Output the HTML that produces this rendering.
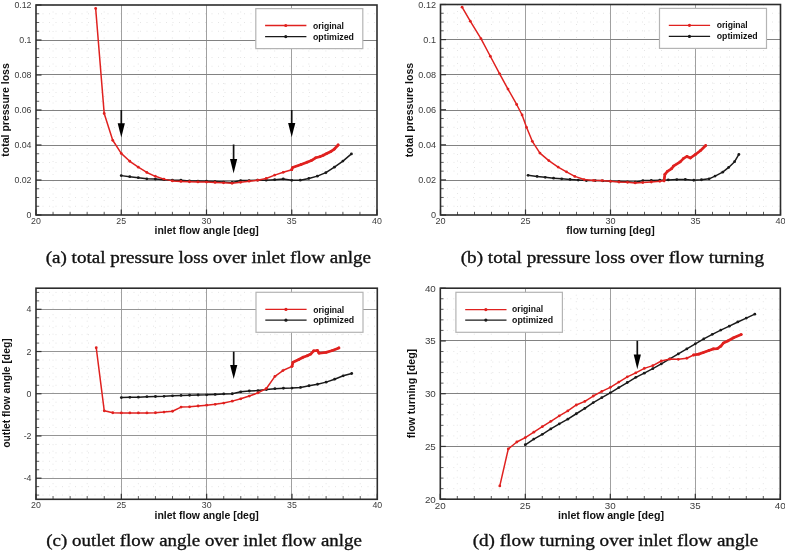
<!DOCTYPE html>
<html><head><meta charset="utf-8"><title>Figure</title>
<style>
html,body{margin:0;padding:0;background:#fff;}
body{width:785px;height:552px;overflow:hidden;}
svg{display:block;}
.tl{font-family:"Liberation Sans",Arial,sans-serif;font-size:8.6px;fill:#3c3c3c;}
.al{font-family:"Liberation Sans",Arial,sans-serif;font-size:10.3px;font-weight:bold;fill:#111;}
.lg{font-family:"Liberation Sans",Arial,sans-serif;font-size:9.9px;font-weight:bold;fill:#111;}
.tt{font-family:"Liberation Serif","Times New Roman",serif;font-size:17.6px;fill:#111;stroke:#111;stroke-width:0.35px;}
</style></head>
<body>
<svg width="785" height="552" viewBox="0 0 785 552">
<rect width="785" height="552" fill="#fff"/>
<line x1="53.05" y1="5.00" x2="53.05" y2="215.00" stroke="#dedede" stroke-width="0.8" stroke-dasharray="1 5.5"/>
<line x1="70.10" y1="5.00" x2="70.10" y2="215.00" stroke="#dedede" stroke-width="0.8" stroke-dasharray="1 5.5"/>
<line x1="87.15" y1="5.00" x2="87.15" y2="215.00" stroke="#dedede" stroke-width="0.8" stroke-dasharray="1 5.5"/>
<line x1="104.20" y1="5.00" x2="104.20" y2="215.00" stroke="#dedede" stroke-width="0.8" stroke-dasharray="1 5.5"/>
<line x1="138.30" y1="5.00" x2="138.30" y2="215.00" stroke="#dedede" stroke-width="0.8" stroke-dasharray="1 5.5"/>
<line x1="155.35" y1="5.00" x2="155.35" y2="215.00" stroke="#dedede" stroke-width="0.8" stroke-dasharray="1 5.5"/>
<line x1="172.40" y1="5.00" x2="172.40" y2="215.00" stroke="#dedede" stroke-width="0.8" stroke-dasharray="1 5.5"/>
<line x1="189.45" y1="5.00" x2="189.45" y2="215.00" stroke="#dedede" stroke-width="0.8" stroke-dasharray="1 5.5"/>
<line x1="223.55" y1="5.00" x2="223.55" y2="215.00" stroke="#dedede" stroke-width="0.8" stroke-dasharray="1 5.5"/>
<line x1="240.60" y1="5.00" x2="240.60" y2="215.00" stroke="#dedede" stroke-width="0.8" stroke-dasharray="1 5.5"/>
<line x1="257.65" y1="5.00" x2="257.65" y2="215.00" stroke="#dedede" stroke-width="0.8" stroke-dasharray="1 5.5"/>
<line x1="274.70" y1="5.00" x2="274.70" y2="215.00" stroke="#dedede" stroke-width="0.8" stroke-dasharray="1 5.5"/>
<line x1="308.80" y1="5.00" x2="308.80" y2="215.00" stroke="#dedede" stroke-width="0.8" stroke-dasharray="1 5.5"/>
<line x1="325.85" y1="5.00" x2="325.85" y2="215.00" stroke="#dedede" stroke-width="0.8" stroke-dasharray="1 5.5"/>
<line x1="342.90" y1="5.00" x2="342.90" y2="215.00" stroke="#dedede" stroke-width="0.8" stroke-dasharray="1 5.5"/>
<line x1="359.95" y1="5.00" x2="359.95" y2="215.00" stroke="#dedede" stroke-width="0.8" stroke-dasharray="1 5.5"/>
<line x1="36.00" y1="206.25" x2="377.00" y2="206.25" stroke="#dedede" stroke-width="0.8" stroke-dasharray="1 5.5"/>
<line x1="36.00" y1="197.50" x2="377.00" y2="197.50" stroke="#dedede" stroke-width="0.8" stroke-dasharray="1 5.5"/>
<line x1="36.00" y1="188.75" x2="377.00" y2="188.75" stroke="#dedede" stroke-width="0.8" stroke-dasharray="1 5.5"/>
<line x1="36.00" y1="171.25" x2="377.00" y2="171.25" stroke="#dedede" stroke-width="0.8" stroke-dasharray="1 5.5"/>
<line x1="36.00" y1="162.50" x2="377.00" y2="162.50" stroke="#dedede" stroke-width="0.8" stroke-dasharray="1 5.5"/>
<line x1="36.00" y1="153.75" x2="377.00" y2="153.75" stroke="#dedede" stroke-width="0.8" stroke-dasharray="1 5.5"/>
<line x1="36.00" y1="136.25" x2="377.00" y2="136.25" stroke="#dedede" stroke-width="0.8" stroke-dasharray="1 5.5"/>
<line x1="36.00" y1="127.50" x2="377.00" y2="127.50" stroke="#dedede" stroke-width="0.8" stroke-dasharray="1 5.5"/>
<line x1="36.00" y1="118.75" x2="377.00" y2="118.75" stroke="#dedede" stroke-width="0.8" stroke-dasharray="1 5.5"/>
<line x1="36.00" y1="101.25" x2="377.00" y2="101.25" stroke="#dedede" stroke-width="0.8" stroke-dasharray="1 5.5"/>
<line x1="36.00" y1="92.50" x2="377.00" y2="92.50" stroke="#dedede" stroke-width="0.8" stroke-dasharray="1 5.5"/>
<line x1="36.00" y1="83.75" x2="377.00" y2="83.75" stroke="#dedede" stroke-width="0.8" stroke-dasharray="1 5.5"/>
<line x1="36.00" y1="66.25" x2="377.00" y2="66.25" stroke="#dedede" stroke-width="0.8" stroke-dasharray="1 5.5"/>
<line x1="36.00" y1="57.50" x2="377.00" y2="57.50" stroke="#dedede" stroke-width="0.8" stroke-dasharray="1 5.5"/>
<line x1="36.00" y1="48.75" x2="377.00" y2="48.75" stroke="#dedede" stroke-width="0.8" stroke-dasharray="1 5.5"/>
<line x1="36.00" y1="31.25" x2="377.00" y2="31.25" stroke="#dedede" stroke-width="0.8" stroke-dasharray="1 5.5"/>
<line x1="36.00" y1="22.50" x2="377.00" y2="22.50" stroke="#dedede" stroke-width="0.8" stroke-dasharray="1 5.5"/>
<line x1="36.00" y1="13.75" x2="377.00" y2="13.75" stroke="#dedede" stroke-width="0.8" stroke-dasharray="1 5.5"/>
<line x1="121.50" y1="5.00" x2="121.50" y2="215.00" stroke="#a0a0a0" stroke-width="1"/>
<line x1="206.50" y1="5.00" x2="206.50" y2="215.00" stroke="#a0a0a0" stroke-width="1"/>
<line x1="291.50" y1="5.00" x2="291.50" y2="215.00" stroke="#a0a0a0" stroke-width="1"/>
<line x1="36.00" y1="180.50" x2="377.00" y2="180.50" stroke="#828282" stroke-width="1"/>
<line x1="36.00" y1="145.50" x2="377.00" y2="145.50" stroke="#828282" stroke-width="1"/>
<line x1="36.00" y1="110.50" x2="377.00" y2="110.50" stroke="#828282" stroke-width="1"/>
<line x1="36.00" y1="74.50" x2="377.00" y2="74.50" stroke="#828282" stroke-width="1"/>
<line x1="36.00" y1="40.50" x2="377.00" y2="40.50" stroke="#828282" stroke-width="1"/>
<line x1="36.00" y1="215.00" x2="36.00" y2="209.50" stroke="#333" stroke-width="1.2"/>
<line x1="53.05" y1="215.00" x2="53.05" y2="211.80" stroke="#333" stroke-width="0.8"/>
<line x1="70.10" y1="215.00" x2="70.10" y2="211.80" stroke="#333" stroke-width="0.8"/>
<line x1="87.15" y1="215.00" x2="87.15" y2="211.80" stroke="#333" stroke-width="0.8"/>
<line x1="104.20" y1="215.00" x2="104.20" y2="211.80" stroke="#333" stroke-width="0.8"/>
<line x1="121.25" y1="215.00" x2="121.25" y2="209.50" stroke="#333" stroke-width="1.2"/>
<line x1="138.30" y1="215.00" x2="138.30" y2="211.80" stroke="#333" stroke-width="0.8"/>
<line x1="155.35" y1="215.00" x2="155.35" y2="211.80" stroke="#333" stroke-width="0.8"/>
<line x1="172.40" y1="215.00" x2="172.40" y2="211.80" stroke="#333" stroke-width="0.8"/>
<line x1="189.45" y1="215.00" x2="189.45" y2="211.80" stroke="#333" stroke-width="0.8"/>
<line x1="206.50" y1="215.00" x2="206.50" y2="209.50" stroke="#333" stroke-width="1.2"/>
<line x1="223.55" y1="215.00" x2="223.55" y2="211.80" stroke="#333" stroke-width="0.8"/>
<line x1="240.60" y1="215.00" x2="240.60" y2="211.80" stroke="#333" stroke-width="0.8"/>
<line x1="257.65" y1="215.00" x2="257.65" y2="211.80" stroke="#333" stroke-width="0.8"/>
<line x1="274.70" y1="215.00" x2="274.70" y2="211.80" stroke="#333" stroke-width="0.8"/>
<line x1="291.75" y1="215.00" x2="291.75" y2="209.50" stroke="#333" stroke-width="1.2"/>
<line x1="308.80" y1="215.00" x2="308.80" y2="211.80" stroke="#333" stroke-width="0.8"/>
<line x1="325.85" y1="215.00" x2="325.85" y2="211.80" stroke="#333" stroke-width="0.8"/>
<line x1="342.90" y1="215.00" x2="342.90" y2="211.80" stroke="#333" stroke-width="0.8"/>
<line x1="359.95" y1="215.00" x2="359.95" y2="211.80" stroke="#333" stroke-width="0.8"/>
<line x1="377.00" y1="215.00" x2="377.00" y2="209.50" stroke="#333" stroke-width="1.2"/>
<line x1="36.00" y1="215.00" x2="41.50" y2="215.00" stroke="#333" stroke-width="1.2"/>
<line x1="36.00" y1="206.25" x2="39.20" y2="206.25" stroke="#333" stroke-width="0.8"/>
<line x1="36.00" y1="197.50" x2="39.20" y2="197.50" stroke="#333" stroke-width="0.8"/>
<line x1="36.00" y1="188.75" x2="39.20" y2="188.75" stroke="#333" stroke-width="0.8"/>
<line x1="36.00" y1="180.00" x2="41.50" y2="180.00" stroke="#333" stroke-width="1.2"/>
<line x1="36.00" y1="171.25" x2="39.20" y2="171.25" stroke="#333" stroke-width="0.8"/>
<line x1="36.00" y1="162.50" x2="39.20" y2="162.50" stroke="#333" stroke-width="0.8"/>
<line x1="36.00" y1="153.75" x2="39.20" y2="153.75" stroke="#333" stroke-width="0.8"/>
<line x1="36.00" y1="145.00" x2="41.50" y2="145.00" stroke="#333" stroke-width="1.2"/>
<line x1="36.00" y1="136.25" x2="39.20" y2="136.25" stroke="#333" stroke-width="0.8"/>
<line x1="36.00" y1="127.50" x2="39.20" y2="127.50" stroke="#333" stroke-width="0.8"/>
<line x1="36.00" y1="118.75" x2="39.20" y2="118.75" stroke="#333" stroke-width="0.8"/>
<line x1="36.00" y1="110.00" x2="41.50" y2="110.00" stroke="#333" stroke-width="1.2"/>
<line x1="36.00" y1="101.25" x2="39.20" y2="101.25" stroke="#333" stroke-width="0.8"/>
<line x1="36.00" y1="92.50" x2="39.20" y2="92.50" stroke="#333" stroke-width="0.8"/>
<line x1="36.00" y1="83.75" x2="39.20" y2="83.75" stroke="#333" stroke-width="0.8"/>
<line x1="36.00" y1="75.00" x2="41.50" y2="75.00" stroke="#333" stroke-width="1.2"/>
<line x1="36.00" y1="66.25" x2="39.20" y2="66.25" stroke="#333" stroke-width="0.8"/>
<line x1="36.00" y1="57.50" x2="39.20" y2="57.50" stroke="#333" stroke-width="0.8"/>
<line x1="36.00" y1="48.75" x2="39.20" y2="48.75" stroke="#333" stroke-width="0.8"/>
<line x1="36.00" y1="40.00" x2="41.50" y2="40.00" stroke="#333" stroke-width="1.2"/>
<line x1="36.00" y1="31.25" x2="39.20" y2="31.25" stroke="#333" stroke-width="0.8"/>
<line x1="36.00" y1="22.50" x2="39.20" y2="22.50" stroke="#333" stroke-width="0.8"/>
<line x1="36.00" y1="13.75" x2="39.20" y2="13.75" stroke="#333" stroke-width="0.8"/>
<line x1="36.00" y1="5.00" x2="41.50" y2="5.00" stroke="#333" stroke-width="1.2"/>
<rect x="36.00" y="5.00" width="341.00" height="210.00" fill="none" stroke="#2c2c2c" stroke-width="1.6"/>
<text x="36.00" y="223.90" class="tl" style="font-size:8.8px" text-anchor="middle">20</text>
<text x="121.25" y="223.90" class="tl" style="font-size:8.8px" text-anchor="middle">25</text>
<text x="206.50" y="223.90" class="tl" style="font-size:8.8px" text-anchor="middle">30</text>
<text x="291.75" y="223.90" class="tl" style="font-size:8.8px" text-anchor="middle">35</text>
<text x="377.00" y="223.90" class="tl" style="font-size:8.8px" text-anchor="middle">40</text>
<text x="31.50" y="218.15" class="tl" style="font-size:8.8px" text-anchor="end">0</text>
<text x="31.50" y="183.15" class="tl" style="font-size:8.8px" text-anchor="end">0.02</text>
<text x="31.50" y="148.15" class="tl" style="font-size:8.8px" text-anchor="end">0.04</text>
<text x="31.50" y="113.15" class="tl" style="font-size:8.8px" text-anchor="end">0.06</text>
<text x="31.50" y="78.15" class="tl" style="font-size:8.8px" text-anchor="end">0.08</text>
<text x="31.50" y="43.15" class="tl" style="font-size:8.8px" text-anchor="end">0.1</text>
<text x="31.50" y="8.15" class="tl" style="font-size:8.8px" text-anchor="end">0.12</text>
<polyline points="121.25,175.62 129.78,176.68 138.30,177.72 146.82,178.78 155.35,179.12 163.88,179.65 172.40,180.18 180.92,180.18 189.45,180.88 197.97,181.05 206.50,181.22 215.03,181.57 223.55,182.10 232.07,182.45 240.60,180.53 249.12,180.53 257.65,180.18 266.18,180.18 274.70,179.65 283.23,178.95 291.75,180.35 300.28,180.18 308.80,178.43 317.32,176.15 325.85,172.65 334.38,167.22 342.90,161.10 351.43,153.93" fill="none" stroke="#1a1a1a" stroke-width="1.5" stroke-linejoin="round" stroke-linecap="round"/>
<circle cx="121.25" cy="175.62" r="1.4" fill="#1a1a1a"/>
<circle cx="129.78" cy="176.68" r="1.4" fill="#1a1a1a"/>
<circle cx="138.30" cy="177.72" r="1.4" fill="#1a1a1a"/>
<circle cx="146.82" cy="178.78" r="1.4" fill="#1a1a1a"/>
<circle cx="155.35" cy="179.12" r="1.4" fill="#1a1a1a"/>
<circle cx="163.88" cy="179.65" r="1.4" fill="#1a1a1a"/>
<circle cx="172.40" cy="180.18" r="1.4" fill="#1a1a1a"/>
<circle cx="180.92" cy="180.18" r="1.4" fill="#1a1a1a"/>
<circle cx="189.45" cy="180.88" r="1.4" fill="#1a1a1a"/>
<circle cx="197.97" cy="181.05" r="1.4" fill="#1a1a1a"/>
<circle cx="206.50" cy="181.22" r="1.4" fill="#1a1a1a"/>
<circle cx="215.03" cy="181.57" r="1.4" fill="#1a1a1a"/>
<circle cx="223.55" cy="182.10" r="1.4" fill="#1a1a1a"/>
<circle cx="232.07" cy="182.45" r="1.4" fill="#1a1a1a"/>
<circle cx="240.60" cy="180.53" r="1.4" fill="#1a1a1a"/>
<circle cx="249.12" cy="180.53" r="1.4" fill="#1a1a1a"/>
<circle cx="257.65" cy="180.18" r="1.4" fill="#1a1a1a"/>
<circle cx="266.18" cy="180.18" r="1.4" fill="#1a1a1a"/>
<circle cx="274.70" cy="179.65" r="1.4" fill="#1a1a1a"/>
<circle cx="283.23" cy="178.95" r="1.4" fill="#1a1a1a"/>
<circle cx="291.75" cy="180.35" r="1.4" fill="#1a1a1a"/>
<circle cx="300.28" cy="180.18" r="1.4" fill="#1a1a1a"/>
<circle cx="308.80" cy="178.43" r="1.4" fill="#1a1a1a"/>
<circle cx="317.32" cy="176.15" r="1.4" fill="#1a1a1a"/>
<circle cx="325.85" cy="172.65" r="1.4" fill="#1a1a1a"/>
<circle cx="334.38" cy="167.22" r="1.4" fill="#1a1a1a"/>
<circle cx="342.90" cy="161.10" r="1.4" fill="#1a1a1a"/>
<circle cx="351.43" cy="153.93" r="1.4" fill="#1a1a1a"/>
<polyline points="95.67,8.50 104.20,113.50 112.73,140.28 121.25,153.40 129.78,161.27 138.30,167.22 146.82,172.47 155.35,176.32 163.88,179.12 172.40,180.88 180.92,181.40 189.45,181.75 197.97,181.93 206.50,182.10 215.03,182.45 223.55,182.80 232.07,183.32 240.60,182.28 249.12,181.22 257.65,180.18 266.18,178.43 274.70,175.10 283.23,172.30 291.75,169.68 292.60,167.57 301.13,164.43 307.09,162.15 311.36,160.57 315.62,157.78 319.88,156.72 323.29,155.32 326.70,153.57 330.96,151.47 334.38,149.03 338.13,145.00" fill="none" stroke="#e0211f" stroke-width="1.5" stroke-linejoin="round" stroke-linecap="round"/>
<circle cx="95.67" cy="8.50" r="1.4" fill="#e0211f"/>
<circle cx="104.20" cy="113.50" r="1.4" fill="#e0211f"/>
<circle cx="112.73" cy="140.28" r="1.4" fill="#e0211f"/>
<circle cx="121.25" cy="153.40" r="1.4" fill="#e0211f"/>
<circle cx="129.78" cy="161.27" r="1.4" fill="#e0211f"/>
<circle cx="138.30" cy="167.22" r="1.4" fill="#e0211f"/>
<circle cx="146.82" cy="172.47" r="1.4" fill="#e0211f"/>
<circle cx="155.35" cy="176.32" r="1.4" fill="#e0211f"/>
<circle cx="163.88" cy="179.12" r="1.4" fill="#e0211f"/>
<circle cx="172.40" cy="180.88" r="1.4" fill="#e0211f"/>
<circle cx="180.92" cy="181.40" r="1.4" fill="#e0211f"/>
<circle cx="189.45" cy="181.75" r="1.4" fill="#e0211f"/>
<circle cx="197.97" cy="181.93" r="1.4" fill="#e0211f"/>
<circle cx="206.50" cy="182.10" r="1.4" fill="#e0211f"/>
<circle cx="215.03" cy="182.45" r="1.4" fill="#e0211f"/>
<circle cx="223.55" cy="182.80" r="1.4" fill="#e0211f"/>
<circle cx="232.07" cy="183.32" r="1.4" fill="#e0211f"/>
<circle cx="240.60" cy="182.28" r="1.4" fill="#e0211f"/>
<circle cx="249.12" cy="181.22" r="1.4" fill="#e0211f"/>
<circle cx="257.65" cy="180.18" r="1.4" fill="#e0211f"/>
<circle cx="266.18" cy="178.43" r="1.4" fill="#e0211f"/>
<circle cx="274.70" cy="175.10" r="1.4" fill="#e0211f"/>
<circle cx="283.23" cy="172.30" r="1.4" fill="#e0211f"/>
<circle cx="291.75" cy="169.68" r="1.4" fill="#e0211f"/>
<circle cx="292.60" cy="167.57" r="1.4" fill="#e0211f"/>
<circle cx="301.13" cy="164.43" r="1.4" fill="#e0211f"/>
<circle cx="307.09" cy="162.15" r="1.4" fill="#e0211f"/>
<circle cx="311.36" cy="160.57" r="1.4" fill="#e0211f"/>
<circle cx="315.62" cy="157.78" r="1.4" fill="#e0211f"/>
<circle cx="319.88" cy="156.72" r="1.4" fill="#e0211f"/>
<circle cx="323.29" cy="155.32" r="1.4" fill="#e0211f"/>
<circle cx="326.70" cy="153.57" r="1.4" fill="#e0211f"/>
<circle cx="330.96" cy="151.47" r="1.4" fill="#e0211f"/>
<circle cx="334.38" cy="149.03" r="1.4" fill="#e0211f"/>
<circle cx="338.13" cy="145.00" r="1.4" fill="#e0211f"/>
<polyline points="291.75,169.68 292.60,167.57 301.13,164.43 307.09,162.15 311.36,160.57 315.62,157.78 319.88,156.72 323.29,155.32 326.70,153.57 330.96,151.47 334.38,149.03 338.13,145.00" fill="none" stroke="#e0211f" stroke-width="2.7" stroke-linejoin="round" stroke-linecap="round"/>
<line x1="121.30" y1="110.00" x2="121.30" y2="124.20" stroke="#111" stroke-width="1.7"/>
<polygon points="117.70,123.20 124.90,123.20 121.30,137.60" fill="#000"/>
<line x1="233.60" y1="144.50" x2="233.60" y2="160.00" stroke="#111" stroke-width="1.7"/>
<polygon points="230.00,159.00 237.20,159.00 233.60,173.40" fill="#000"/>
<line x1="291.70" y1="110.00" x2="291.70" y2="124.10" stroke="#111" stroke-width="1.7"/>
<polygon points="288.10,123.10 295.30,123.10 291.70,137.30" fill="#000"/>
<rect x="255.80" y="8.60" width="107" height="40" fill="#fff" stroke="#b4b4b4" stroke-width="1.2"/>
<line x1="265.10" y1="25.50" x2="306.40" y2="25.50" stroke="#e0211f" stroke-width="1.3"/>
<circle cx="285.75" cy="25.50" r="1.6" fill="#e0211f"/>
<line x1="265.10" y1="36.60" x2="306.40" y2="36.60" stroke="#1a1a1a" stroke-width="1.3"/>
<circle cx="285.75" cy="36.60" r="1.6" fill="#1a1a1a"/>
<text x="313.00" y="29.30" class="lg" textLength="31" lengthAdjust="spacingAndGlyphs">original</text>
<text x="313.00" y="40.30" class="lg" textLength="41" lengthAdjust="spacingAndGlyphs">optimized</text>
<text transform="translate(9.00,110.00) rotate(-90)" text-anchor="middle" class="al" textLength="93.5" lengthAdjust="spacingAndGlyphs">total pressure loss</text>
<text x="206.70" y="234.30" text-anchor="middle" class="al" textLength="104.3" lengthAdjust="spacingAndGlyphs">inlet flow angle [deg]</text>
<text x="45.70" y="262.90" class="tt" textLength="325.3" lengthAdjust="spacingAndGlyphs">(a) total pressure loss over inlet flow anlge</text>
<line x1="457.50" y1="4.50" x2="457.50" y2="215.00" stroke="#dedede" stroke-width="0.8" stroke-dasharray="1 5.5"/>
<line x1="474.50" y1="4.50" x2="474.50" y2="215.00" stroke="#dedede" stroke-width="0.8" stroke-dasharray="1 5.5"/>
<line x1="491.50" y1="4.50" x2="491.50" y2="215.00" stroke="#dedede" stroke-width="0.8" stroke-dasharray="1 5.5"/>
<line x1="508.50" y1="4.50" x2="508.50" y2="215.00" stroke="#dedede" stroke-width="0.8" stroke-dasharray="1 5.5"/>
<line x1="542.50" y1="4.50" x2="542.50" y2="215.00" stroke="#dedede" stroke-width="0.8" stroke-dasharray="1 5.5"/>
<line x1="559.50" y1="4.50" x2="559.50" y2="215.00" stroke="#dedede" stroke-width="0.8" stroke-dasharray="1 5.5"/>
<line x1="576.50" y1="4.50" x2="576.50" y2="215.00" stroke="#dedede" stroke-width="0.8" stroke-dasharray="1 5.5"/>
<line x1="593.50" y1="4.50" x2="593.50" y2="215.00" stroke="#dedede" stroke-width="0.8" stroke-dasharray="1 5.5"/>
<line x1="627.50" y1="4.50" x2="627.50" y2="215.00" stroke="#dedede" stroke-width="0.8" stroke-dasharray="1 5.5"/>
<line x1="644.50" y1="4.50" x2="644.50" y2="215.00" stroke="#dedede" stroke-width="0.8" stroke-dasharray="1 5.5"/>
<line x1="661.50" y1="4.50" x2="661.50" y2="215.00" stroke="#dedede" stroke-width="0.8" stroke-dasharray="1 5.5"/>
<line x1="678.50" y1="4.50" x2="678.50" y2="215.00" stroke="#dedede" stroke-width="0.8" stroke-dasharray="1 5.5"/>
<line x1="712.50" y1="4.50" x2="712.50" y2="215.00" stroke="#dedede" stroke-width="0.8" stroke-dasharray="1 5.5"/>
<line x1="729.50" y1="4.50" x2="729.50" y2="215.00" stroke="#dedede" stroke-width="0.8" stroke-dasharray="1 5.5"/>
<line x1="746.50" y1="4.50" x2="746.50" y2="215.00" stroke="#dedede" stroke-width="0.8" stroke-dasharray="1 5.5"/>
<line x1="763.50" y1="4.50" x2="763.50" y2="215.00" stroke="#dedede" stroke-width="0.8" stroke-dasharray="1 5.5"/>
<line x1="440.50" y1="206.23" x2="780.50" y2="206.23" stroke="#dedede" stroke-width="0.8" stroke-dasharray="1 5.5"/>
<line x1="440.50" y1="197.46" x2="780.50" y2="197.46" stroke="#dedede" stroke-width="0.8" stroke-dasharray="1 5.5"/>
<line x1="440.50" y1="188.69" x2="780.50" y2="188.69" stroke="#dedede" stroke-width="0.8" stroke-dasharray="1 5.5"/>
<line x1="440.50" y1="171.15" x2="780.50" y2="171.15" stroke="#dedede" stroke-width="0.8" stroke-dasharray="1 5.5"/>
<line x1="440.50" y1="162.38" x2="780.50" y2="162.38" stroke="#dedede" stroke-width="0.8" stroke-dasharray="1 5.5"/>
<line x1="440.50" y1="153.60" x2="780.50" y2="153.60" stroke="#dedede" stroke-width="0.8" stroke-dasharray="1 5.5"/>
<line x1="440.50" y1="136.06" x2="780.50" y2="136.06" stroke="#dedede" stroke-width="0.8" stroke-dasharray="1 5.5"/>
<line x1="440.50" y1="127.29" x2="780.50" y2="127.29" stroke="#dedede" stroke-width="0.8" stroke-dasharray="1 5.5"/>
<line x1="440.50" y1="118.52" x2="780.50" y2="118.52" stroke="#dedede" stroke-width="0.8" stroke-dasharray="1 5.5"/>
<line x1="440.50" y1="100.98" x2="780.50" y2="100.98" stroke="#dedede" stroke-width="0.8" stroke-dasharray="1 5.5"/>
<line x1="440.50" y1="92.21" x2="780.50" y2="92.21" stroke="#dedede" stroke-width="0.8" stroke-dasharray="1 5.5"/>
<line x1="440.50" y1="83.44" x2="780.50" y2="83.44" stroke="#dedede" stroke-width="0.8" stroke-dasharray="1 5.5"/>
<line x1="440.50" y1="65.90" x2="780.50" y2="65.90" stroke="#dedede" stroke-width="0.8" stroke-dasharray="1 5.5"/>
<line x1="440.50" y1="57.12" x2="780.50" y2="57.12" stroke="#dedede" stroke-width="0.8" stroke-dasharray="1 5.5"/>
<line x1="440.50" y1="48.35" x2="780.50" y2="48.35" stroke="#dedede" stroke-width="0.8" stroke-dasharray="1 5.5"/>
<line x1="440.50" y1="30.81" x2="780.50" y2="30.81" stroke="#dedede" stroke-width="0.8" stroke-dasharray="1 5.5"/>
<line x1="440.50" y1="22.04" x2="780.50" y2="22.04" stroke="#dedede" stroke-width="0.8" stroke-dasharray="1 5.5"/>
<line x1="440.50" y1="13.27" x2="780.50" y2="13.27" stroke="#dedede" stroke-width="0.8" stroke-dasharray="1 5.5"/>
<line x1="525.50" y1="4.50" x2="525.50" y2="215.00" stroke="#a0a0a0" stroke-width="1"/>
<line x1="610.50" y1="4.50" x2="610.50" y2="215.00" stroke="#a0a0a0" stroke-width="1"/>
<line x1="695.50" y1="4.50" x2="695.50" y2="215.00" stroke="#a0a0a0" stroke-width="1"/>
<line x1="440.50" y1="180.50" x2="780.50" y2="180.50" stroke="#828282" stroke-width="1"/>
<line x1="440.50" y1="145.50" x2="780.50" y2="145.50" stroke="#828282" stroke-width="1"/>
<line x1="440.50" y1="110.50" x2="780.50" y2="110.50" stroke="#828282" stroke-width="1"/>
<line x1="440.50" y1="74.50" x2="780.50" y2="74.50" stroke="#828282" stroke-width="1"/>
<line x1="440.50" y1="39.50" x2="780.50" y2="39.50" stroke="#828282" stroke-width="1"/>
<line x1="440.50" y1="215.00" x2="440.50" y2="209.50" stroke="#333" stroke-width="1.2"/>
<line x1="457.50" y1="215.00" x2="457.50" y2="211.80" stroke="#333" stroke-width="0.8"/>
<line x1="474.50" y1="215.00" x2="474.50" y2="211.80" stroke="#333" stroke-width="0.8"/>
<line x1="491.50" y1="215.00" x2="491.50" y2="211.80" stroke="#333" stroke-width="0.8"/>
<line x1="508.50" y1="215.00" x2="508.50" y2="211.80" stroke="#333" stroke-width="0.8"/>
<line x1="525.50" y1="215.00" x2="525.50" y2="209.50" stroke="#333" stroke-width="1.2"/>
<line x1="542.50" y1="215.00" x2="542.50" y2="211.80" stroke="#333" stroke-width="0.8"/>
<line x1="559.50" y1="215.00" x2="559.50" y2="211.80" stroke="#333" stroke-width="0.8"/>
<line x1="576.50" y1="215.00" x2="576.50" y2="211.80" stroke="#333" stroke-width="0.8"/>
<line x1="593.50" y1="215.00" x2="593.50" y2="211.80" stroke="#333" stroke-width="0.8"/>
<line x1="610.50" y1="215.00" x2="610.50" y2="209.50" stroke="#333" stroke-width="1.2"/>
<line x1="627.50" y1="215.00" x2="627.50" y2="211.80" stroke="#333" stroke-width="0.8"/>
<line x1="644.50" y1="215.00" x2="644.50" y2="211.80" stroke="#333" stroke-width="0.8"/>
<line x1="661.50" y1="215.00" x2="661.50" y2="211.80" stroke="#333" stroke-width="0.8"/>
<line x1="678.50" y1="215.00" x2="678.50" y2="211.80" stroke="#333" stroke-width="0.8"/>
<line x1="695.50" y1="215.00" x2="695.50" y2="209.50" stroke="#333" stroke-width="1.2"/>
<line x1="712.50" y1="215.00" x2="712.50" y2="211.80" stroke="#333" stroke-width="0.8"/>
<line x1="729.50" y1="215.00" x2="729.50" y2="211.80" stroke="#333" stroke-width="0.8"/>
<line x1="746.50" y1="215.00" x2="746.50" y2="211.80" stroke="#333" stroke-width="0.8"/>
<line x1="763.50" y1="215.00" x2="763.50" y2="211.80" stroke="#333" stroke-width="0.8"/>
<line x1="780.50" y1="215.00" x2="780.50" y2="209.50" stroke="#333" stroke-width="1.2"/>
<line x1="440.50" y1="215.00" x2="446.00" y2="215.00" stroke="#333" stroke-width="1.2"/>
<line x1="440.50" y1="206.23" x2="443.70" y2="206.23" stroke="#333" stroke-width="0.8"/>
<line x1="440.50" y1="197.46" x2="443.70" y2="197.46" stroke="#333" stroke-width="0.8"/>
<line x1="440.50" y1="188.69" x2="443.70" y2="188.69" stroke="#333" stroke-width="0.8"/>
<line x1="440.50" y1="179.92" x2="446.00" y2="179.92" stroke="#333" stroke-width="1.2"/>
<line x1="440.50" y1="171.15" x2="443.70" y2="171.15" stroke="#333" stroke-width="0.8"/>
<line x1="440.50" y1="162.38" x2="443.70" y2="162.38" stroke="#333" stroke-width="0.8"/>
<line x1="440.50" y1="153.60" x2="443.70" y2="153.60" stroke="#333" stroke-width="0.8"/>
<line x1="440.50" y1="144.83" x2="446.00" y2="144.83" stroke="#333" stroke-width="1.2"/>
<line x1="440.50" y1="136.06" x2="443.70" y2="136.06" stroke="#333" stroke-width="0.8"/>
<line x1="440.50" y1="127.29" x2="443.70" y2="127.29" stroke="#333" stroke-width="0.8"/>
<line x1="440.50" y1="118.52" x2="443.70" y2="118.52" stroke="#333" stroke-width="0.8"/>
<line x1="440.50" y1="109.75" x2="446.00" y2="109.75" stroke="#333" stroke-width="1.2"/>
<line x1="440.50" y1="100.98" x2="443.70" y2="100.98" stroke="#333" stroke-width="0.8"/>
<line x1="440.50" y1="92.21" x2="443.70" y2="92.21" stroke="#333" stroke-width="0.8"/>
<line x1="440.50" y1="83.44" x2="443.70" y2="83.44" stroke="#333" stroke-width="0.8"/>
<line x1="440.50" y1="74.67" x2="446.00" y2="74.67" stroke="#333" stroke-width="1.2"/>
<line x1="440.50" y1="65.90" x2="443.70" y2="65.90" stroke="#333" stroke-width="0.8"/>
<line x1="440.50" y1="57.12" x2="443.70" y2="57.12" stroke="#333" stroke-width="0.8"/>
<line x1="440.50" y1="48.35" x2="443.70" y2="48.35" stroke="#333" stroke-width="0.8"/>
<line x1="440.50" y1="39.58" x2="446.00" y2="39.58" stroke="#333" stroke-width="1.2"/>
<line x1="440.50" y1="30.81" x2="443.70" y2="30.81" stroke="#333" stroke-width="0.8"/>
<line x1="440.50" y1="22.04" x2="443.70" y2="22.04" stroke="#333" stroke-width="0.8"/>
<line x1="440.50" y1="13.27" x2="443.70" y2="13.27" stroke="#333" stroke-width="0.8"/>
<line x1="440.50" y1="4.50" x2="446.00" y2="4.50" stroke="#333" stroke-width="1.2"/>
<rect x="440.50" y="4.50" width="340.00" height="210.50" fill="none" stroke="#2c2c2c" stroke-width="1.6"/>
<text x="440.50" y="224.12" class="tl" style="font-size:9.1px" text-anchor="middle">20</text>
<text x="525.50" y="224.12" class="tl" style="font-size:9.1px" text-anchor="middle">25</text>
<text x="610.50" y="224.12" class="tl" style="font-size:9.1px" text-anchor="middle">30</text>
<text x="695.50" y="224.12" class="tl" style="font-size:9.1px" text-anchor="middle">35</text>
<text x="780.50" y="224.12" class="tl" style="font-size:9.1px" text-anchor="middle">40</text>
<text x="436.00" y="218.26" class="tl" style="font-size:9.1px" text-anchor="end">0</text>
<text x="436.00" y="183.17" class="tl" style="font-size:9.1px" text-anchor="end">0.02</text>
<text x="436.00" y="148.09" class="tl" style="font-size:9.1px" text-anchor="end">0.04</text>
<text x="436.00" y="113.01" class="tl" style="font-size:9.1px" text-anchor="end">0.06</text>
<text x="436.00" y="77.92" class="tl" style="font-size:9.1px" text-anchor="end">0.08</text>
<text x="436.00" y="42.84" class="tl" style="font-size:9.1px" text-anchor="end">0.1</text>
<text x="436.00" y="7.76" class="tl" style="font-size:9.1px" text-anchor="end">0.12</text>
<polyline points="528.05,175.36 537.06,176.41 545.22,177.29 553.55,178.16 561.71,178.86 570.04,179.39 578.20,180.09 586.36,180.62 595.20,180.62 602.85,180.79 610.50,181.14 619.00,181.50 627.50,181.85 635.15,182.20 642.80,180.62 651.30,180.44 659.80,180.27 668.30,179.92 676.80,179.57 685.30,179.39 693.80,180.27 701.45,179.74 709.10,178.86 715.05,176.06 722.70,172.20 728.65,167.46 734.60,161.67 738.85,154.48" fill="none" stroke="#1a1a1a" stroke-width="1.5" stroke-linejoin="round" stroke-linecap="round"/>
<circle cx="528.05" cy="175.36" r="1.4" fill="#1a1a1a"/>
<circle cx="537.06" cy="176.41" r="1.4" fill="#1a1a1a"/>
<circle cx="545.22" cy="177.29" r="1.4" fill="#1a1a1a"/>
<circle cx="553.55" cy="178.16" r="1.4" fill="#1a1a1a"/>
<circle cx="561.71" cy="178.86" r="1.4" fill="#1a1a1a"/>
<circle cx="570.04" cy="179.39" r="1.4" fill="#1a1a1a"/>
<circle cx="578.20" cy="180.09" r="1.4" fill="#1a1a1a"/>
<circle cx="586.36" cy="180.62" r="1.4" fill="#1a1a1a"/>
<circle cx="595.20" cy="180.62" r="1.4" fill="#1a1a1a"/>
<circle cx="602.85" cy="180.79" r="1.4" fill="#1a1a1a"/>
<circle cx="610.50" cy="181.14" r="1.4" fill="#1a1a1a"/>
<circle cx="619.00" cy="181.50" r="1.4" fill="#1a1a1a"/>
<circle cx="627.50" cy="181.85" r="1.4" fill="#1a1a1a"/>
<circle cx="635.15" cy="182.20" r="1.4" fill="#1a1a1a"/>
<circle cx="642.80" cy="180.62" r="1.4" fill="#1a1a1a"/>
<circle cx="651.30" cy="180.44" r="1.4" fill="#1a1a1a"/>
<circle cx="659.80" cy="180.27" r="1.4" fill="#1a1a1a"/>
<circle cx="668.30" cy="179.92" r="1.4" fill="#1a1a1a"/>
<circle cx="676.80" cy="179.57" r="1.4" fill="#1a1a1a"/>
<circle cx="685.30" cy="179.39" r="1.4" fill="#1a1a1a"/>
<circle cx="693.80" cy="180.27" r="1.4" fill="#1a1a1a"/>
<circle cx="701.45" cy="179.74" r="1.4" fill="#1a1a1a"/>
<circle cx="709.10" cy="178.86" r="1.4" fill="#1a1a1a"/>
<circle cx="715.05" cy="176.06" r="1.4" fill="#1a1a1a"/>
<circle cx="722.70" cy="172.20" r="1.4" fill="#1a1a1a"/>
<circle cx="728.65" cy="167.46" r="1.4" fill="#1a1a1a"/>
<circle cx="734.60" cy="161.67" r="1.4" fill="#1a1a1a"/>
<circle cx="738.85" cy="154.48" r="1.4" fill="#1a1a1a"/>
<polyline points="462.09,7.13 470.25,21.16 480.96,38.71 490.31,56.25 499.66,73.79 507.99,89.05 516.66,104.49 522.10,115.01 526.52,127.29 532.30,141.32 539.95,153.08 548.79,160.62 558.14,167.11 566.47,171.85 574.80,176.41 584.15,179.57 593.50,180.44 602.00,180.62 610.50,181.32 619.00,182.02 627.50,182.37 635.15,182.90 642.80,182.55 651.30,182.02 659.80,181.32 664.05,180.79 664.90,174.30 667.45,171.32 671.70,168.51 673.40,166.23 680.20,161.85 683.60,158.34 687.00,156.41 690.40,157.99 695.50,154.48 700.60,150.45 705.70,145.53" fill="none" stroke="#e0211f" stroke-width="1.5" stroke-linejoin="round" stroke-linecap="round"/>
<circle cx="462.09" cy="7.13" r="1.4" fill="#e0211f"/>
<circle cx="470.25" cy="21.16" r="1.4" fill="#e0211f"/>
<circle cx="480.96" cy="38.71" r="1.4" fill="#e0211f"/>
<circle cx="490.31" cy="56.25" r="1.4" fill="#e0211f"/>
<circle cx="499.66" cy="73.79" r="1.4" fill="#e0211f"/>
<circle cx="507.99" cy="89.05" r="1.4" fill="#e0211f"/>
<circle cx="516.66" cy="104.49" r="1.4" fill="#e0211f"/>
<circle cx="522.10" cy="115.01" r="1.4" fill="#e0211f"/>
<circle cx="526.52" cy="127.29" r="1.4" fill="#e0211f"/>
<circle cx="532.30" cy="141.32" r="1.4" fill="#e0211f"/>
<circle cx="539.95" cy="153.08" r="1.4" fill="#e0211f"/>
<circle cx="548.79" cy="160.62" r="1.4" fill="#e0211f"/>
<circle cx="558.14" cy="167.11" r="1.4" fill="#e0211f"/>
<circle cx="566.47" cy="171.85" r="1.4" fill="#e0211f"/>
<circle cx="574.80" cy="176.41" r="1.4" fill="#e0211f"/>
<circle cx="584.15" cy="179.57" r="1.4" fill="#e0211f"/>
<circle cx="593.50" cy="180.44" r="1.4" fill="#e0211f"/>
<circle cx="602.00" cy="180.62" r="1.4" fill="#e0211f"/>
<circle cx="610.50" cy="181.32" r="1.4" fill="#e0211f"/>
<circle cx="619.00" cy="182.02" r="1.4" fill="#e0211f"/>
<circle cx="627.50" cy="182.37" r="1.4" fill="#e0211f"/>
<circle cx="635.15" cy="182.90" r="1.4" fill="#e0211f"/>
<circle cx="642.80" cy="182.55" r="1.4" fill="#e0211f"/>
<circle cx="651.30" cy="182.02" r="1.4" fill="#e0211f"/>
<circle cx="659.80" cy="181.32" r="1.4" fill="#e0211f"/>
<circle cx="664.05" cy="180.79" r="1.4" fill="#e0211f"/>
<circle cx="664.90" cy="174.30" r="1.4" fill="#e0211f"/>
<circle cx="667.45" cy="171.32" r="1.4" fill="#e0211f"/>
<circle cx="671.70" cy="168.51" r="1.4" fill="#e0211f"/>
<circle cx="673.40" cy="166.23" r="1.4" fill="#e0211f"/>
<circle cx="680.20" cy="161.85" r="1.4" fill="#e0211f"/>
<circle cx="683.60" cy="158.34" r="1.4" fill="#e0211f"/>
<circle cx="687.00" cy="156.41" r="1.4" fill="#e0211f"/>
<circle cx="690.40" cy="157.99" r="1.4" fill="#e0211f"/>
<circle cx="695.50" cy="154.48" r="1.4" fill="#e0211f"/>
<circle cx="700.60" cy="150.45" r="1.4" fill="#e0211f"/>
<circle cx="705.70" cy="145.53" r="1.4" fill="#e0211f"/>
<polyline points="664.05,180.79 664.90,174.30 667.45,171.32 671.70,168.51 673.40,166.23 680.20,161.85 683.60,158.34 687.00,156.41 690.40,157.99 695.50,154.48 700.60,150.45 705.70,145.53" fill="none" stroke="#e0211f" stroke-width="2.7" stroke-linejoin="round" stroke-linecap="round"/>
<rect x="659.50" y="8.40" width="107" height="40" fill="#fff" stroke="#b4b4b4" stroke-width="1.2"/>
<line x1="668.80" y1="25.30" x2="710.10" y2="25.30" stroke="#e0211f" stroke-width="1.3"/>
<circle cx="689.45" cy="25.30" r="1.6" fill="#e0211f"/>
<line x1="668.80" y1="36.40" x2="710.10" y2="36.40" stroke="#1a1a1a" stroke-width="1.3"/>
<circle cx="689.45" cy="36.40" r="1.6" fill="#1a1a1a"/>
<text x="716.70" y="28.20" class="lg" textLength="31" lengthAdjust="spacingAndGlyphs">original</text>
<text x="716.70" y="38.90" class="lg" textLength="41" lengthAdjust="spacingAndGlyphs">optimized</text>
<text transform="translate(413.30,110.00) rotate(-90)" text-anchor="middle" class="al" textLength="94.5" lengthAdjust="spacingAndGlyphs">total pressure loss</text>
<text x="610.50" y="234.30" text-anchor="middle" class="al" textLength="88.5" lengthAdjust="spacingAndGlyphs">flow turning [deg]</text>
<text x="460.70" y="262.90" class="tt" textLength="303.3" lengthAdjust="spacingAndGlyphs">(b) total pressure loss over flow turning</text>
<line x1="53.06" y1="288.20" x2="53.06" y2="499.30" stroke="#dedede" stroke-width="0.8" stroke-dasharray="1 5.5"/>
<line x1="70.13" y1="288.20" x2="70.13" y2="499.30" stroke="#dedede" stroke-width="0.8" stroke-dasharray="1 5.5"/>
<line x1="87.19" y1="288.20" x2="87.19" y2="499.30" stroke="#dedede" stroke-width="0.8" stroke-dasharray="1 5.5"/>
<line x1="104.26" y1="288.20" x2="104.26" y2="499.30" stroke="#dedede" stroke-width="0.8" stroke-dasharray="1 5.5"/>
<line x1="138.39" y1="288.20" x2="138.39" y2="499.30" stroke="#dedede" stroke-width="0.8" stroke-dasharray="1 5.5"/>
<line x1="155.45" y1="288.20" x2="155.45" y2="499.30" stroke="#dedede" stroke-width="0.8" stroke-dasharray="1 5.5"/>
<line x1="172.52" y1="288.20" x2="172.52" y2="499.30" stroke="#dedede" stroke-width="0.8" stroke-dasharray="1 5.5"/>
<line x1="189.59" y1="288.20" x2="189.59" y2="499.30" stroke="#dedede" stroke-width="0.8" stroke-dasharray="1 5.5"/>
<line x1="223.72" y1="288.20" x2="223.72" y2="499.30" stroke="#dedede" stroke-width="0.8" stroke-dasharray="1 5.5"/>
<line x1="240.78" y1="288.20" x2="240.78" y2="499.30" stroke="#dedede" stroke-width="0.8" stroke-dasharray="1 5.5"/>
<line x1="257.85" y1="288.20" x2="257.85" y2="499.30" stroke="#dedede" stroke-width="0.8" stroke-dasharray="1 5.5"/>
<line x1="274.91" y1="288.20" x2="274.91" y2="499.30" stroke="#dedede" stroke-width="0.8" stroke-dasharray="1 5.5"/>
<line x1="309.04" y1="288.20" x2="309.04" y2="499.30" stroke="#dedede" stroke-width="0.8" stroke-dasharray="1 5.5"/>
<line x1="326.11" y1="288.20" x2="326.11" y2="499.30" stroke="#dedede" stroke-width="0.8" stroke-dasharray="1 5.5"/>
<line x1="343.17" y1="288.20" x2="343.17" y2="499.30" stroke="#dedede" stroke-width="0.8" stroke-dasharray="1 5.5"/>
<line x1="360.24" y1="288.20" x2="360.24" y2="499.30" stroke="#dedede" stroke-width="0.8" stroke-dasharray="1 5.5"/>
<line x1="36.00" y1="495.08" x2="377.30" y2="495.08" stroke="#dedede" stroke-width="0.8" stroke-dasharray="1 5.5"/>
<line x1="36.00" y1="486.63" x2="377.30" y2="486.63" stroke="#dedede" stroke-width="0.8" stroke-dasharray="1 5.5"/>
<line x1="36.00" y1="469.75" x2="377.30" y2="469.75" stroke="#dedede" stroke-width="0.8" stroke-dasharray="1 5.5"/>
<line x1="36.00" y1="461.30" x2="377.30" y2="461.30" stroke="#dedede" stroke-width="0.8" stroke-dasharray="1 5.5"/>
<line x1="36.00" y1="452.86" x2="377.30" y2="452.86" stroke="#dedede" stroke-width="0.8" stroke-dasharray="1 5.5"/>
<line x1="36.00" y1="444.41" x2="377.30" y2="444.41" stroke="#dedede" stroke-width="0.8" stroke-dasharray="1 5.5"/>
<line x1="36.00" y1="427.53" x2="377.30" y2="427.53" stroke="#dedede" stroke-width="0.8" stroke-dasharray="1 5.5"/>
<line x1="36.00" y1="419.08" x2="377.30" y2="419.08" stroke="#dedede" stroke-width="0.8" stroke-dasharray="1 5.5"/>
<line x1="36.00" y1="410.64" x2="377.30" y2="410.64" stroke="#dedede" stroke-width="0.8" stroke-dasharray="1 5.5"/>
<line x1="36.00" y1="402.19" x2="377.30" y2="402.19" stroke="#dedede" stroke-width="0.8" stroke-dasharray="1 5.5"/>
<line x1="36.00" y1="385.31" x2="377.30" y2="385.31" stroke="#dedede" stroke-width="0.8" stroke-dasharray="1 5.5"/>
<line x1="36.00" y1="376.86" x2="377.30" y2="376.86" stroke="#dedede" stroke-width="0.8" stroke-dasharray="1 5.5"/>
<line x1="36.00" y1="368.42" x2="377.30" y2="368.42" stroke="#dedede" stroke-width="0.8" stroke-dasharray="1 5.5"/>
<line x1="36.00" y1="359.97" x2="377.30" y2="359.97" stroke="#dedede" stroke-width="0.8" stroke-dasharray="1 5.5"/>
<line x1="36.00" y1="343.09" x2="377.30" y2="343.09" stroke="#dedede" stroke-width="0.8" stroke-dasharray="1 5.5"/>
<line x1="36.00" y1="334.64" x2="377.30" y2="334.64" stroke="#dedede" stroke-width="0.8" stroke-dasharray="1 5.5"/>
<line x1="36.00" y1="326.20" x2="377.30" y2="326.20" stroke="#dedede" stroke-width="0.8" stroke-dasharray="1 5.5"/>
<line x1="36.00" y1="317.75" x2="377.30" y2="317.75" stroke="#dedede" stroke-width="0.8" stroke-dasharray="1 5.5"/>
<line x1="36.00" y1="300.87" x2="377.30" y2="300.87" stroke="#dedede" stroke-width="0.8" stroke-dasharray="1 5.5"/>
<line x1="36.00" y1="292.42" x2="377.30" y2="292.42" stroke="#dedede" stroke-width="0.8" stroke-dasharray="1 5.5"/>
<line x1="121.50" y1="288.20" x2="121.50" y2="499.30" stroke="#a0a0a0" stroke-width="1"/>
<line x1="206.50" y1="288.20" x2="206.50" y2="499.30" stroke="#a0a0a0" stroke-width="1"/>
<line x1="291.50" y1="288.20" x2="291.50" y2="499.30" stroke="#a0a0a0" stroke-width="1"/>
<line x1="36.00" y1="478.50" x2="377.30" y2="478.50" stroke="#959595" stroke-width="1"/>
<line x1="36.00" y1="435.50" x2="377.30" y2="435.50" stroke="#959595" stroke-width="1"/>
<line x1="36.00" y1="393.50" x2="377.30" y2="393.50" stroke="#959595" stroke-width="1"/>
<line x1="36.00" y1="351.50" x2="377.30" y2="351.50" stroke="#959595" stroke-width="1"/>
<line x1="36.00" y1="309.50" x2="377.30" y2="309.50" stroke="#959595" stroke-width="1"/>
<line x1="36.00" y1="499.30" x2="36.00" y2="493.80" stroke="#333" stroke-width="1.2"/>
<line x1="53.06" y1="499.30" x2="53.06" y2="496.10" stroke="#333" stroke-width="0.8"/>
<line x1="70.13" y1="499.30" x2="70.13" y2="496.10" stroke="#333" stroke-width="0.8"/>
<line x1="87.19" y1="499.30" x2="87.19" y2="496.10" stroke="#333" stroke-width="0.8"/>
<line x1="104.26" y1="499.30" x2="104.26" y2="496.10" stroke="#333" stroke-width="0.8"/>
<line x1="121.33" y1="499.30" x2="121.33" y2="493.80" stroke="#333" stroke-width="1.2"/>
<line x1="138.39" y1="499.30" x2="138.39" y2="496.10" stroke="#333" stroke-width="0.8"/>
<line x1="155.45" y1="499.30" x2="155.45" y2="496.10" stroke="#333" stroke-width="0.8"/>
<line x1="172.52" y1="499.30" x2="172.52" y2="496.10" stroke="#333" stroke-width="0.8"/>
<line x1="189.59" y1="499.30" x2="189.59" y2="496.10" stroke="#333" stroke-width="0.8"/>
<line x1="206.65" y1="499.30" x2="206.65" y2="493.80" stroke="#333" stroke-width="1.2"/>
<line x1="223.72" y1="499.30" x2="223.72" y2="496.10" stroke="#333" stroke-width="0.8"/>
<line x1="240.78" y1="499.30" x2="240.78" y2="496.10" stroke="#333" stroke-width="0.8"/>
<line x1="257.85" y1="499.30" x2="257.85" y2="496.10" stroke="#333" stroke-width="0.8"/>
<line x1="274.91" y1="499.30" x2="274.91" y2="496.10" stroke="#333" stroke-width="0.8"/>
<line x1="291.98" y1="499.30" x2="291.98" y2="493.80" stroke="#333" stroke-width="1.2"/>
<line x1="309.04" y1="499.30" x2="309.04" y2="496.10" stroke="#333" stroke-width="0.8"/>
<line x1="326.11" y1="499.30" x2="326.11" y2="496.10" stroke="#333" stroke-width="0.8"/>
<line x1="343.17" y1="499.30" x2="343.17" y2="496.10" stroke="#333" stroke-width="0.8"/>
<line x1="360.24" y1="499.30" x2="360.24" y2="496.10" stroke="#333" stroke-width="0.8"/>
<line x1="377.30" y1="499.30" x2="377.30" y2="493.80" stroke="#333" stroke-width="1.2"/>
<line x1="36.00" y1="495.08" x2="39.20" y2="495.08" stroke="#333" stroke-width="0.8"/>
<line x1="36.00" y1="486.63" x2="39.20" y2="486.63" stroke="#333" stroke-width="0.8"/>
<line x1="36.00" y1="478.19" x2="41.50" y2="478.19" stroke="#333" stroke-width="1.2"/>
<line x1="36.00" y1="469.75" x2="39.20" y2="469.75" stroke="#333" stroke-width="0.8"/>
<line x1="36.00" y1="461.30" x2="39.20" y2="461.30" stroke="#333" stroke-width="0.8"/>
<line x1="36.00" y1="452.86" x2="39.20" y2="452.86" stroke="#333" stroke-width="0.8"/>
<line x1="36.00" y1="444.41" x2="39.20" y2="444.41" stroke="#333" stroke-width="0.8"/>
<line x1="36.00" y1="435.97" x2="41.50" y2="435.97" stroke="#333" stroke-width="1.2"/>
<line x1="36.00" y1="427.53" x2="39.20" y2="427.53" stroke="#333" stroke-width="0.8"/>
<line x1="36.00" y1="419.08" x2="39.20" y2="419.08" stroke="#333" stroke-width="0.8"/>
<line x1="36.00" y1="410.64" x2="39.20" y2="410.64" stroke="#333" stroke-width="0.8"/>
<line x1="36.00" y1="402.19" x2="39.20" y2="402.19" stroke="#333" stroke-width="0.8"/>
<line x1="36.00" y1="393.75" x2="41.50" y2="393.75" stroke="#333" stroke-width="1.2"/>
<line x1="36.00" y1="385.31" x2="39.20" y2="385.31" stroke="#333" stroke-width="0.8"/>
<line x1="36.00" y1="376.86" x2="39.20" y2="376.86" stroke="#333" stroke-width="0.8"/>
<line x1="36.00" y1="368.42" x2="39.20" y2="368.42" stroke="#333" stroke-width="0.8"/>
<line x1="36.00" y1="359.97" x2="39.20" y2="359.97" stroke="#333" stroke-width="0.8"/>
<line x1="36.00" y1="351.53" x2="41.50" y2="351.53" stroke="#333" stroke-width="1.2"/>
<line x1="36.00" y1="343.09" x2="39.20" y2="343.09" stroke="#333" stroke-width="0.8"/>
<line x1="36.00" y1="334.64" x2="39.20" y2="334.64" stroke="#333" stroke-width="0.8"/>
<line x1="36.00" y1="326.20" x2="39.20" y2="326.20" stroke="#333" stroke-width="0.8"/>
<line x1="36.00" y1="317.75" x2="39.20" y2="317.75" stroke="#333" stroke-width="0.8"/>
<line x1="36.00" y1="309.31" x2="41.50" y2="309.31" stroke="#333" stroke-width="1.2"/>
<line x1="36.00" y1="300.87" x2="39.20" y2="300.87" stroke="#333" stroke-width="0.8"/>
<line x1="36.00" y1="292.42" x2="39.20" y2="292.42" stroke="#333" stroke-width="0.8"/>
<rect x="36.00" y="288.20" width="341.30" height="211.10" fill="none" stroke="#2c2c2c" stroke-width="1.6"/>
<text x="36.00" y="508.20" class="tl" style="font-size:8.8px" text-anchor="middle">20</text>
<text x="121.33" y="508.20" class="tl" style="font-size:8.8px" text-anchor="middle">25</text>
<text x="206.65" y="508.20" class="tl" style="font-size:8.8px" text-anchor="middle">30</text>
<text x="291.98" y="508.20" class="tl" style="font-size:8.8px" text-anchor="middle">35</text>
<text x="377.30" y="508.20" class="tl" style="font-size:8.8px" text-anchor="middle">40</text>
<text x="31.50" y="481.34" class="tl" style="font-size:8.8px" text-anchor="end">-4</text>
<text x="31.50" y="439.12" class="tl" style="font-size:8.8px" text-anchor="end">-2</text>
<text x="31.50" y="396.90" class="tl" style="font-size:8.8px" text-anchor="end">0</text>
<text x="31.50" y="354.68" class="tl" style="font-size:8.8px" text-anchor="end">2</text>
<text x="31.50" y="312.46" class="tl" style="font-size:8.8px" text-anchor="end">4</text>
<polyline points="121.33,397.55 129.86,397.34 138.39,397.13 146.92,396.71 155.45,396.49 163.99,396.28 172.52,395.86 181.05,395.44 189.59,395.23 198.12,395.02 206.65,394.81 215.18,394.38 223.72,393.96 232.25,393.75 240.78,391.85 249.31,391.01 257.85,390.58 266.38,389.53 274.91,388.68 283.44,388.26 291.98,388.05 300.51,387.42 309.04,385.73 317.57,384.25 326.11,382.14 334.64,379.18 343.17,375.81 351.70,373.48" fill="none" stroke="#1a1a1a" stroke-width="1.5" stroke-linejoin="round" stroke-linecap="round"/>
<circle cx="121.33" cy="397.55" r="1.4" fill="#1a1a1a"/>
<circle cx="129.86" cy="397.34" r="1.4" fill="#1a1a1a"/>
<circle cx="138.39" cy="397.13" r="1.4" fill="#1a1a1a"/>
<circle cx="146.92" cy="396.71" r="1.4" fill="#1a1a1a"/>
<circle cx="155.45" cy="396.49" r="1.4" fill="#1a1a1a"/>
<circle cx="163.99" cy="396.28" r="1.4" fill="#1a1a1a"/>
<circle cx="172.52" cy="395.86" r="1.4" fill="#1a1a1a"/>
<circle cx="181.05" cy="395.44" r="1.4" fill="#1a1a1a"/>
<circle cx="189.59" cy="395.23" r="1.4" fill="#1a1a1a"/>
<circle cx="198.12" cy="395.02" r="1.4" fill="#1a1a1a"/>
<circle cx="206.65" cy="394.81" r="1.4" fill="#1a1a1a"/>
<circle cx="215.18" cy="394.38" r="1.4" fill="#1a1a1a"/>
<circle cx="223.72" cy="393.96" r="1.4" fill="#1a1a1a"/>
<circle cx="232.25" cy="393.75" r="1.4" fill="#1a1a1a"/>
<circle cx="240.78" cy="391.85" r="1.4" fill="#1a1a1a"/>
<circle cx="249.31" cy="391.01" r="1.4" fill="#1a1a1a"/>
<circle cx="257.85" cy="390.58" r="1.4" fill="#1a1a1a"/>
<circle cx="266.38" cy="389.53" r="1.4" fill="#1a1a1a"/>
<circle cx="274.91" cy="388.68" r="1.4" fill="#1a1a1a"/>
<circle cx="283.44" cy="388.26" r="1.4" fill="#1a1a1a"/>
<circle cx="291.98" cy="388.05" r="1.4" fill="#1a1a1a"/>
<circle cx="300.51" cy="387.42" r="1.4" fill="#1a1a1a"/>
<circle cx="309.04" cy="385.73" r="1.4" fill="#1a1a1a"/>
<circle cx="317.57" cy="384.25" r="1.4" fill="#1a1a1a"/>
<circle cx="326.11" cy="382.14" r="1.4" fill="#1a1a1a"/>
<circle cx="334.64" cy="379.18" r="1.4" fill="#1a1a1a"/>
<circle cx="343.17" cy="375.81" r="1.4" fill="#1a1a1a"/>
<circle cx="351.70" cy="373.48" r="1.4" fill="#1a1a1a"/>
<polyline points="96.24,347.73 104.26,410.85 112.79,412.75 121.33,412.96 129.86,412.96 138.39,412.96 146.92,412.96 155.45,412.75 163.99,412.12 172.52,411.27 181.05,407.05 189.59,406.84 198.12,405.99 206.65,405.15 215.18,404.31 223.72,403.04 232.25,401.14 240.78,398.82 249.31,396.07 257.85,392.91 266.38,388.47 274.91,376.44 282.93,370.53 291.98,366.31 293.00,362.30 298.80,359.55 303.07,357.23 307.33,355.75 310.75,354.06 313.65,350.90 317.40,350.47 319.11,353.22 326.11,352.37 332.42,350.47 338.90,347.94" fill="none" stroke="#e0211f" stroke-width="1.5" stroke-linejoin="round" stroke-linecap="round"/>
<circle cx="96.24" cy="347.73" r="1.4" fill="#e0211f"/>
<circle cx="104.26" cy="410.85" r="1.4" fill="#e0211f"/>
<circle cx="112.79" cy="412.75" r="1.4" fill="#e0211f"/>
<circle cx="121.33" cy="412.96" r="1.4" fill="#e0211f"/>
<circle cx="129.86" cy="412.96" r="1.4" fill="#e0211f"/>
<circle cx="138.39" cy="412.96" r="1.4" fill="#e0211f"/>
<circle cx="146.92" cy="412.96" r="1.4" fill="#e0211f"/>
<circle cx="155.45" cy="412.75" r="1.4" fill="#e0211f"/>
<circle cx="163.99" cy="412.12" r="1.4" fill="#e0211f"/>
<circle cx="172.52" cy="411.27" r="1.4" fill="#e0211f"/>
<circle cx="181.05" cy="407.05" r="1.4" fill="#e0211f"/>
<circle cx="189.59" cy="406.84" r="1.4" fill="#e0211f"/>
<circle cx="198.12" cy="405.99" r="1.4" fill="#e0211f"/>
<circle cx="206.65" cy="405.15" r="1.4" fill="#e0211f"/>
<circle cx="215.18" cy="404.31" r="1.4" fill="#e0211f"/>
<circle cx="223.72" cy="403.04" r="1.4" fill="#e0211f"/>
<circle cx="232.25" cy="401.14" r="1.4" fill="#e0211f"/>
<circle cx="240.78" cy="398.82" r="1.4" fill="#e0211f"/>
<circle cx="249.31" cy="396.07" r="1.4" fill="#e0211f"/>
<circle cx="257.85" cy="392.91" r="1.4" fill="#e0211f"/>
<circle cx="266.38" cy="388.47" r="1.4" fill="#e0211f"/>
<circle cx="274.91" cy="376.44" r="1.4" fill="#e0211f"/>
<circle cx="282.93" cy="370.53" r="1.4" fill="#e0211f"/>
<circle cx="291.98" cy="366.31" r="1.4" fill="#e0211f"/>
<circle cx="293.00" cy="362.30" r="1.4" fill="#e0211f"/>
<circle cx="298.80" cy="359.55" r="1.4" fill="#e0211f"/>
<circle cx="303.07" cy="357.23" r="1.4" fill="#e0211f"/>
<circle cx="307.33" cy="355.75" r="1.4" fill="#e0211f"/>
<circle cx="310.75" cy="354.06" r="1.4" fill="#e0211f"/>
<circle cx="313.65" cy="350.90" r="1.4" fill="#e0211f"/>
<circle cx="317.40" cy="350.47" r="1.4" fill="#e0211f"/>
<circle cx="319.11" cy="353.22" r="1.4" fill="#e0211f"/>
<circle cx="326.11" cy="352.37" r="1.4" fill="#e0211f"/>
<circle cx="332.42" cy="350.47" r="1.4" fill="#e0211f"/>
<circle cx="338.90" cy="347.94" r="1.4" fill="#e0211f"/>
<polyline points="291.98,366.31 293.00,362.30 298.80,359.55 303.07,357.23 307.33,355.75 310.75,354.06 313.65,350.90 317.40,350.47 319.11,353.22 326.11,352.37 332.42,350.47 338.90,347.94" fill="none" stroke="#e0211f" stroke-width="2.7" stroke-linejoin="round" stroke-linecap="round"/>
<line x1="233.70" y1="351.70" x2="233.70" y2="366.00" stroke="#111" stroke-width="1.7"/>
<polygon points="230.10,365.00 237.30,365.00 233.70,379.00" fill="#000"/>
<rect x="256.00" y="292.30" width="107" height="40" fill="#fff" stroke="#b4b4b4" stroke-width="1.2"/>
<line x1="265.30" y1="309.40" x2="306.60" y2="309.40" stroke="#e0211f" stroke-width="1.3"/>
<circle cx="285.95" cy="309.40" r="1.6" fill="#e0211f"/>
<line x1="265.30" y1="320.20" x2="306.60" y2="320.20" stroke="#1a1a1a" stroke-width="1.3"/>
<circle cx="285.95" cy="320.20" r="1.6" fill="#1a1a1a"/>
<text x="313.20" y="312.50" class="lg" textLength="31" lengthAdjust="spacingAndGlyphs">original</text>
<text x="313.20" y="323.20" class="lg" textLength="41" lengthAdjust="spacingAndGlyphs">optimized</text>
<text transform="translate(10.00,393.10) rotate(-90)" text-anchor="middle" class="al" textLength="109.5" lengthAdjust="spacingAndGlyphs">outlet flow angle [deg]</text>
<text x="206.70" y="518.80" text-anchor="middle" class="al" textLength="104.3" lengthAdjust="spacingAndGlyphs">inlet flow angle [deg]</text>
<text x="46.30" y="546.40" class="tt" textLength="315.6" lengthAdjust="spacingAndGlyphs">(c) outlet flow angle over inlet flow anlge</text>
<line x1="457.30" y1="288.20" x2="457.30" y2="499.20" stroke="#dedede" stroke-width="0.8" stroke-dasharray="1 5.5"/>
<line x1="474.30" y1="288.20" x2="474.30" y2="499.20" stroke="#dedede" stroke-width="0.8" stroke-dasharray="1 5.5"/>
<line x1="491.30" y1="288.20" x2="491.30" y2="499.20" stroke="#dedede" stroke-width="0.8" stroke-dasharray="1 5.5"/>
<line x1="508.30" y1="288.20" x2="508.30" y2="499.20" stroke="#dedede" stroke-width="0.8" stroke-dasharray="1 5.5"/>
<line x1="542.30" y1="288.20" x2="542.30" y2="499.20" stroke="#dedede" stroke-width="0.8" stroke-dasharray="1 5.5"/>
<line x1="559.30" y1="288.20" x2="559.30" y2="499.20" stroke="#dedede" stroke-width="0.8" stroke-dasharray="1 5.5"/>
<line x1="576.30" y1="288.20" x2="576.30" y2="499.20" stroke="#dedede" stroke-width="0.8" stroke-dasharray="1 5.5"/>
<line x1="593.30" y1="288.20" x2="593.30" y2="499.20" stroke="#dedede" stroke-width="0.8" stroke-dasharray="1 5.5"/>
<line x1="627.30" y1="288.20" x2="627.30" y2="499.20" stroke="#dedede" stroke-width="0.8" stroke-dasharray="1 5.5"/>
<line x1="644.30" y1="288.20" x2="644.30" y2="499.20" stroke="#dedede" stroke-width="0.8" stroke-dasharray="1 5.5"/>
<line x1="661.30" y1="288.20" x2="661.30" y2="499.20" stroke="#dedede" stroke-width="0.8" stroke-dasharray="1 5.5"/>
<line x1="678.30" y1="288.20" x2="678.30" y2="499.20" stroke="#dedede" stroke-width="0.8" stroke-dasharray="1 5.5"/>
<line x1="712.30" y1="288.20" x2="712.30" y2="499.20" stroke="#dedede" stroke-width="0.8" stroke-dasharray="1 5.5"/>
<line x1="729.30" y1="288.20" x2="729.30" y2="499.20" stroke="#dedede" stroke-width="0.8" stroke-dasharray="1 5.5"/>
<line x1="746.30" y1="288.20" x2="746.30" y2="499.20" stroke="#dedede" stroke-width="0.8" stroke-dasharray="1 5.5"/>
<line x1="763.30" y1="288.20" x2="763.30" y2="499.20" stroke="#dedede" stroke-width="0.8" stroke-dasharray="1 5.5"/>
<line x1="440.30" y1="488.65" x2="780.30" y2="488.65" stroke="#dedede" stroke-width="0.8" stroke-dasharray="1 5.5"/>
<line x1="440.30" y1="478.10" x2="780.30" y2="478.10" stroke="#dedede" stroke-width="0.8" stroke-dasharray="1 5.5"/>
<line x1="440.30" y1="467.55" x2="780.30" y2="467.55" stroke="#dedede" stroke-width="0.8" stroke-dasharray="1 5.5"/>
<line x1="440.30" y1="457.00" x2="780.30" y2="457.00" stroke="#dedede" stroke-width="0.8" stroke-dasharray="1 5.5"/>
<line x1="440.30" y1="435.90" x2="780.30" y2="435.90" stroke="#dedede" stroke-width="0.8" stroke-dasharray="1 5.5"/>
<line x1="440.30" y1="425.35" x2="780.30" y2="425.35" stroke="#dedede" stroke-width="0.8" stroke-dasharray="1 5.5"/>
<line x1="440.30" y1="414.80" x2="780.30" y2="414.80" stroke="#dedede" stroke-width="0.8" stroke-dasharray="1 5.5"/>
<line x1="440.30" y1="404.25" x2="780.30" y2="404.25" stroke="#dedede" stroke-width="0.8" stroke-dasharray="1 5.5"/>
<line x1="440.30" y1="383.15" x2="780.30" y2="383.15" stroke="#dedede" stroke-width="0.8" stroke-dasharray="1 5.5"/>
<line x1="440.30" y1="372.60" x2="780.30" y2="372.60" stroke="#dedede" stroke-width="0.8" stroke-dasharray="1 5.5"/>
<line x1="440.30" y1="362.05" x2="780.30" y2="362.05" stroke="#dedede" stroke-width="0.8" stroke-dasharray="1 5.5"/>
<line x1="440.30" y1="351.50" x2="780.30" y2="351.50" stroke="#dedede" stroke-width="0.8" stroke-dasharray="1 5.5"/>
<line x1="440.30" y1="330.40" x2="780.30" y2="330.40" stroke="#dedede" stroke-width="0.8" stroke-dasharray="1 5.5"/>
<line x1="440.30" y1="319.85" x2="780.30" y2="319.85" stroke="#dedede" stroke-width="0.8" stroke-dasharray="1 5.5"/>
<line x1="440.30" y1="309.30" x2="780.30" y2="309.30" stroke="#dedede" stroke-width="0.8" stroke-dasharray="1 5.5"/>
<line x1="440.30" y1="298.75" x2="780.30" y2="298.75" stroke="#dedede" stroke-width="0.8" stroke-dasharray="1 5.5"/>
<line x1="525.50" y1="288.20" x2="525.50" y2="499.20" stroke="#a0a0a0" stroke-width="1"/>
<line x1="610.50" y1="288.20" x2="610.50" y2="499.20" stroke="#a0a0a0" stroke-width="1"/>
<line x1="695.50" y1="288.20" x2="695.50" y2="499.20" stroke="#a0a0a0" stroke-width="1"/>
<line x1="440.30" y1="446.50" x2="780.30" y2="446.50" stroke="#828282" stroke-width="1"/>
<line x1="440.30" y1="393.50" x2="780.30" y2="393.50" stroke="#828282" stroke-width="1"/>
<line x1="440.30" y1="340.50" x2="780.30" y2="340.50" stroke="#828282" stroke-width="1"/>
<line x1="440.30" y1="499.20" x2="440.30" y2="493.70" stroke="#333" stroke-width="1.2"/>
<line x1="457.30" y1="499.20" x2="457.30" y2="496.00" stroke="#333" stroke-width="0.8"/>
<line x1="474.30" y1="499.20" x2="474.30" y2="496.00" stroke="#333" stroke-width="0.8"/>
<line x1="491.30" y1="499.20" x2="491.30" y2="496.00" stroke="#333" stroke-width="0.8"/>
<line x1="508.30" y1="499.20" x2="508.30" y2="496.00" stroke="#333" stroke-width="0.8"/>
<line x1="525.30" y1="499.20" x2="525.30" y2="493.70" stroke="#333" stroke-width="1.2"/>
<line x1="542.30" y1="499.20" x2="542.30" y2="496.00" stroke="#333" stroke-width="0.8"/>
<line x1="559.30" y1="499.20" x2="559.30" y2="496.00" stroke="#333" stroke-width="0.8"/>
<line x1="576.30" y1="499.20" x2="576.30" y2="496.00" stroke="#333" stroke-width="0.8"/>
<line x1="593.30" y1="499.20" x2="593.30" y2="496.00" stroke="#333" stroke-width="0.8"/>
<line x1="610.30" y1="499.20" x2="610.30" y2="493.70" stroke="#333" stroke-width="1.2"/>
<line x1="627.30" y1="499.20" x2="627.30" y2="496.00" stroke="#333" stroke-width="0.8"/>
<line x1="644.30" y1="499.20" x2="644.30" y2="496.00" stroke="#333" stroke-width="0.8"/>
<line x1="661.30" y1="499.20" x2="661.30" y2="496.00" stroke="#333" stroke-width="0.8"/>
<line x1="678.30" y1="499.20" x2="678.30" y2="496.00" stroke="#333" stroke-width="0.8"/>
<line x1="695.30" y1="499.20" x2="695.30" y2="493.70" stroke="#333" stroke-width="1.2"/>
<line x1="712.30" y1="499.20" x2="712.30" y2="496.00" stroke="#333" stroke-width="0.8"/>
<line x1="729.30" y1="499.20" x2="729.30" y2="496.00" stroke="#333" stroke-width="0.8"/>
<line x1="746.30" y1="499.20" x2="746.30" y2="496.00" stroke="#333" stroke-width="0.8"/>
<line x1="763.30" y1="499.20" x2="763.30" y2="496.00" stroke="#333" stroke-width="0.8"/>
<line x1="780.30" y1="499.20" x2="780.30" y2="493.70" stroke="#333" stroke-width="1.2"/>
<line x1="440.30" y1="499.20" x2="445.80" y2="499.20" stroke="#333" stroke-width="1.2"/>
<line x1="440.30" y1="488.65" x2="443.50" y2="488.65" stroke="#333" stroke-width="0.8"/>
<line x1="440.30" y1="478.10" x2="443.50" y2="478.10" stroke="#333" stroke-width="0.8"/>
<line x1="440.30" y1="467.55" x2="443.50" y2="467.55" stroke="#333" stroke-width="0.8"/>
<line x1="440.30" y1="457.00" x2="443.50" y2="457.00" stroke="#333" stroke-width="0.8"/>
<line x1="440.30" y1="446.45" x2="445.80" y2="446.45" stroke="#333" stroke-width="1.2"/>
<line x1="440.30" y1="435.90" x2="443.50" y2="435.90" stroke="#333" stroke-width="0.8"/>
<line x1="440.30" y1="425.35" x2="443.50" y2="425.35" stroke="#333" stroke-width="0.8"/>
<line x1="440.30" y1="414.80" x2="443.50" y2="414.80" stroke="#333" stroke-width="0.8"/>
<line x1="440.30" y1="404.25" x2="443.50" y2="404.25" stroke="#333" stroke-width="0.8"/>
<line x1="440.30" y1="393.70" x2="445.80" y2="393.70" stroke="#333" stroke-width="1.2"/>
<line x1="440.30" y1="383.15" x2="443.50" y2="383.15" stroke="#333" stroke-width="0.8"/>
<line x1="440.30" y1="372.60" x2="443.50" y2="372.60" stroke="#333" stroke-width="0.8"/>
<line x1="440.30" y1="362.05" x2="443.50" y2="362.05" stroke="#333" stroke-width="0.8"/>
<line x1="440.30" y1="351.50" x2="443.50" y2="351.50" stroke="#333" stroke-width="0.8"/>
<line x1="440.30" y1="340.95" x2="445.80" y2="340.95" stroke="#333" stroke-width="1.2"/>
<line x1="440.30" y1="330.40" x2="443.50" y2="330.40" stroke="#333" stroke-width="0.8"/>
<line x1="440.30" y1="319.85" x2="443.50" y2="319.85" stroke="#333" stroke-width="0.8"/>
<line x1="440.30" y1="309.30" x2="443.50" y2="309.30" stroke="#333" stroke-width="0.8"/>
<line x1="440.30" y1="298.75" x2="443.50" y2="298.75" stroke="#333" stroke-width="0.8"/>
<line x1="440.30" y1="288.20" x2="445.80" y2="288.20" stroke="#333" stroke-width="1.2"/>
<rect x="440.30" y="288.20" width="340.00" height="211.00" fill="none" stroke="#2c2c2c" stroke-width="1.6"/>
<text x="440.30" y="508.82" class="tl" style="font-size:9.8px" text-anchor="middle">20</text>
<text x="525.30" y="508.82" class="tl" style="font-size:9.8px" text-anchor="middle">25</text>
<text x="610.30" y="508.82" class="tl" style="font-size:9.8px" text-anchor="middle">30</text>
<text x="695.30" y="508.82" class="tl" style="font-size:9.8px" text-anchor="middle">35</text>
<text x="780.30" y="508.82" class="tl" style="font-size:9.8px" text-anchor="middle">40</text>
<text x="435.80" y="502.71" class="tl" style="font-size:9.8px" text-anchor="end">20</text>
<text x="435.80" y="449.96" class="tl" style="font-size:9.8px" text-anchor="end">25</text>
<text x="435.80" y="397.21" class="tl" style="font-size:9.8px" text-anchor="end">30</text>
<text x="435.80" y="344.46" class="tl" style="font-size:9.8px" text-anchor="end">35</text>
<text x="435.80" y="291.71" class="tl" style="font-size:9.8px" text-anchor="end">40</text>
<polyline points="525.30,444.76 533.80,439.06 542.30,434.32 550.80,428.94 559.30,423.87 567.80,419.13 576.30,413.75 584.80,408.47 593.30,402.56 601.80,397.71 610.30,392.86 618.80,387.58 627.30,382.52 635.80,377.35 644.30,373.13 652.80,368.70 661.30,363.95 669.80,358.88 678.30,353.93 686.80,348.97 695.30,343.80 703.80,338.84 712.30,334.30 720.80,330.08 729.30,326.18 737.80,321.96 746.30,318.06 754.80,314.15" fill="none" stroke="#1a1a1a" stroke-width="1.5" stroke-linejoin="round" stroke-linecap="round"/>
<circle cx="525.30" cy="444.76" r="1.4" fill="#1a1a1a"/>
<circle cx="533.80" cy="439.06" r="1.4" fill="#1a1a1a"/>
<circle cx="542.30" cy="434.32" r="1.4" fill="#1a1a1a"/>
<circle cx="550.80" cy="428.94" r="1.4" fill="#1a1a1a"/>
<circle cx="559.30" cy="423.87" r="1.4" fill="#1a1a1a"/>
<circle cx="567.80" cy="419.13" r="1.4" fill="#1a1a1a"/>
<circle cx="576.30" cy="413.75" r="1.4" fill="#1a1a1a"/>
<circle cx="584.80" cy="408.47" r="1.4" fill="#1a1a1a"/>
<circle cx="593.30" cy="402.56" r="1.4" fill="#1a1a1a"/>
<circle cx="601.80" cy="397.71" r="1.4" fill="#1a1a1a"/>
<circle cx="610.30" cy="392.86" r="1.4" fill="#1a1a1a"/>
<circle cx="618.80" cy="387.58" r="1.4" fill="#1a1a1a"/>
<circle cx="627.30" cy="382.52" r="1.4" fill="#1a1a1a"/>
<circle cx="635.80" cy="377.35" r="1.4" fill="#1a1a1a"/>
<circle cx="644.30" cy="373.13" r="1.4" fill="#1a1a1a"/>
<circle cx="652.80" cy="368.70" r="1.4" fill="#1a1a1a"/>
<circle cx="661.30" cy="363.95" r="1.4" fill="#1a1a1a"/>
<circle cx="669.80" cy="358.88" r="1.4" fill="#1a1a1a"/>
<circle cx="678.30" cy="353.93" r="1.4" fill="#1a1a1a"/>
<circle cx="686.80" cy="348.97" r="1.4" fill="#1a1a1a"/>
<circle cx="695.30" cy="343.80" r="1.4" fill="#1a1a1a"/>
<circle cx="703.80" cy="338.84" r="1.4" fill="#1a1a1a"/>
<circle cx="712.30" cy="334.30" r="1.4" fill="#1a1a1a"/>
<circle cx="720.80" cy="330.08" r="1.4" fill="#1a1a1a"/>
<circle cx="729.30" cy="326.18" r="1.4" fill="#1a1a1a"/>
<circle cx="737.80" cy="321.96" r="1.4" fill="#1a1a1a"/>
<circle cx="746.30" cy="318.06" r="1.4" fill="#1a1a1a"/>
<circle cx="754.80" cy="314.15" r="1.4" fill="#1a1a1a"/>
<polyline points="499.80,485.91 508.30,448.88 516.80,442.02 525.30,437.59 533.80,432.21 542.30,426.72 550.80,421.34 559.30,415.86 567.80,410.90 576.30,404.99 584.80,401.40 593.30,396.02 601.80,391.38 610.30,387.37 618.80,382.09 627.30,376.82 635.80,372.81 644.30,368.38 652.80,365.64 661.30,361.00 669.80,359.10 678.30,359.31 686.80,358.25 693.60,354.98 698.70,354.14 703.29,352.56 708.90,350.44 713.49,348.86 717.40,348.55 720.80,346.23 723.35,343.06 727.77,340.95 733.55,337.78 741.20,334.62" fill="none" stroke="#e0211f" stroke-width="1.5" stroke-linejoin="round" stroke-linecap="round"/>
<circle cx="499.80" cy="485.91" r="1.4" fill="#e0211f"/>
<circle cx="508.30" cy="448.88" r="1.4" fill="#e0211f"/>
<circle cx="516.80" cy="442.02" r="1.4" fill="#e0211f"/>
<circle cx="525.30" cy="437.59" r="1.4" fill="#e0211f"/>
<circle cx="533.80" cy="432.21" r="1.4" fill="#e0211f"/>
<circle cx="542.30" cy="426.72" r="1.4" fill="#e0211f"/>
<circle cx="550.80" cy="421.34" r="1.4" fill="#e0211f"/>
<circle cx="559.30" cy="415.86" r="1.4" fill="#e0211f"/>
<circle cx="567.80" cy="410.90" r="1.4" fill="#e0211f"/>
<circle cx="576.30" cy="404.99" r="1.4" fill="#e0211f"/>
<circle cx="584.80" cy="401.40" r="1.4" fill="#e0211f"/>
<circle cx="593.30" cy="396.02" r="1.4" fill="#e0211f"/>
<circle cx="601.80" cy="391.38" r="1.4" fill="#e0211f"/>
<circle cx="610.30" cy="387.37" r="1.4" fill="#e0211f"/>
<circle cx="618.80" cy="382.09" r="1.4" fill="#e0211f"/>
<circle cx="627.30" cy="376.82" r="1.4" fill="#e0211f"/>
<circle cx="635.80" cy="372.81" r="1.4" fill="#e0211f"/>
<circle cx="644.30" cy="368.38" r="1.4" fill="#e0211f"/>
<circle cx="652.80" cy="365.64" r="1.4" fill="#e0211f"/>
<circle cx="661.30" cy="361.00" r="1.4" fill="#e0211f"/>
<circle cx="669.80" cy="359.10" r="1.4" fill="#e0211f"/>
<circle cx="678.30" cy="359.31" r="1.4" fill="#e0211f"/>
<circle cx="686.80" cy="358.25" r="1.4" fill="#e0211f"/>
<circle cx="693.60" cy="354.98" r="1.4" fill="#e0211f"/>
<circle cx="698.70" cy="354.14" r="1.4" fill="#e0211f"/>
<circle cx="703.29" cy="352.56" r="1.4" fill="#e0211f"/>
<circle cx="708.90" cy="350.44" r="1.4" fill="#e0211f"/>
<circle cx="713.49" cy="348.86" r="1.4" fill="#e0211f"/>
<circle cx="717.40" cy="348.55" r="1.4" fill="#e0211f"/>
<circle cx="720.80" cy="346.23" r="1.4" fill="#e0211f"/>
<circle cx="723.35" cy="343.06" r="1.4" fill="#e0211f"/>
<circle cx="727.77" cy="340.95" r="1.4" fill="#e0211f"/>
<circle cx="733.55" cy="337.78" r="1.4" fill="#e0211f"/>
<circle cx="741.20" cy="334.62" r="1.4" fill="#e0211f"/>
<polyline points="693.60,354.98 698.70,354.14 703.29,352.56 708.90,350.44 713.49,348.86 717.40,348.55 720.80,346.23 723.35,343.06 727.77,340.95 733.55,337.78 741.20,334.62" fill="none" stroke="#e0211f" stroke-width="2.7" stroke-linejoin="round" stroke-linecap="round"/>
<line x1="637.30" y1="340.80" x2="637.30" y2="355.50" stroke="#111" stroke-width="1.7"/>
<polygon points="633.70,354.50 640.90,354.50 637.30,369.20" fill="#000"/>
<rect x="455.90" y="292.30" width="106.5" height="40" fill="#fff" stroke="#b4b4b4" stroke-width="1.2"/>
<line x1="465.20" y1="309.60" x2="506.50" y2="309.60" stroke="#e0211f" stroke-width="1.3"/>
<circle cx="485.85" cy="309.60" r="1.6" fill="#e0211f"/>
<line x1="465.20" y1="320.10" x2="506.50" y2="320.10" stroke="#1a1a1a" stroke-width="1.3"/>
<circle cx="485.85" cy="320.10" r="1.6" fill="#1a1a1a"/>
<text x="512.10" y="312.20" class="lg" textLength="31" lengthAdjust="spacingAndGlyphs">original</text>
<text x="512.10" y="323.00" class="lg" textLength="41" lengthAdjust="spacingAndGlyphs">optimized</text>
<text transform="translate(415.20,393.60) rotate(-90)" text-anchor="middle" class="al" textLength="89.5" lengthAdjust="spacingAndGlyphs">flow turning [deg]</text>
<text x="611.00" y="519.20" text-anchor="middle" class="al" textLength="106" lengthAdjust="spacingAndGlyphs">inlet flow angle [deg]</text>
<text x="472.70" y="546.20" class="tt" textLength="285.6" lengthAdjust="spacingAndGlyphs">(d) flow turning over inlet flow angle</text>
</svg>
</body></html>
